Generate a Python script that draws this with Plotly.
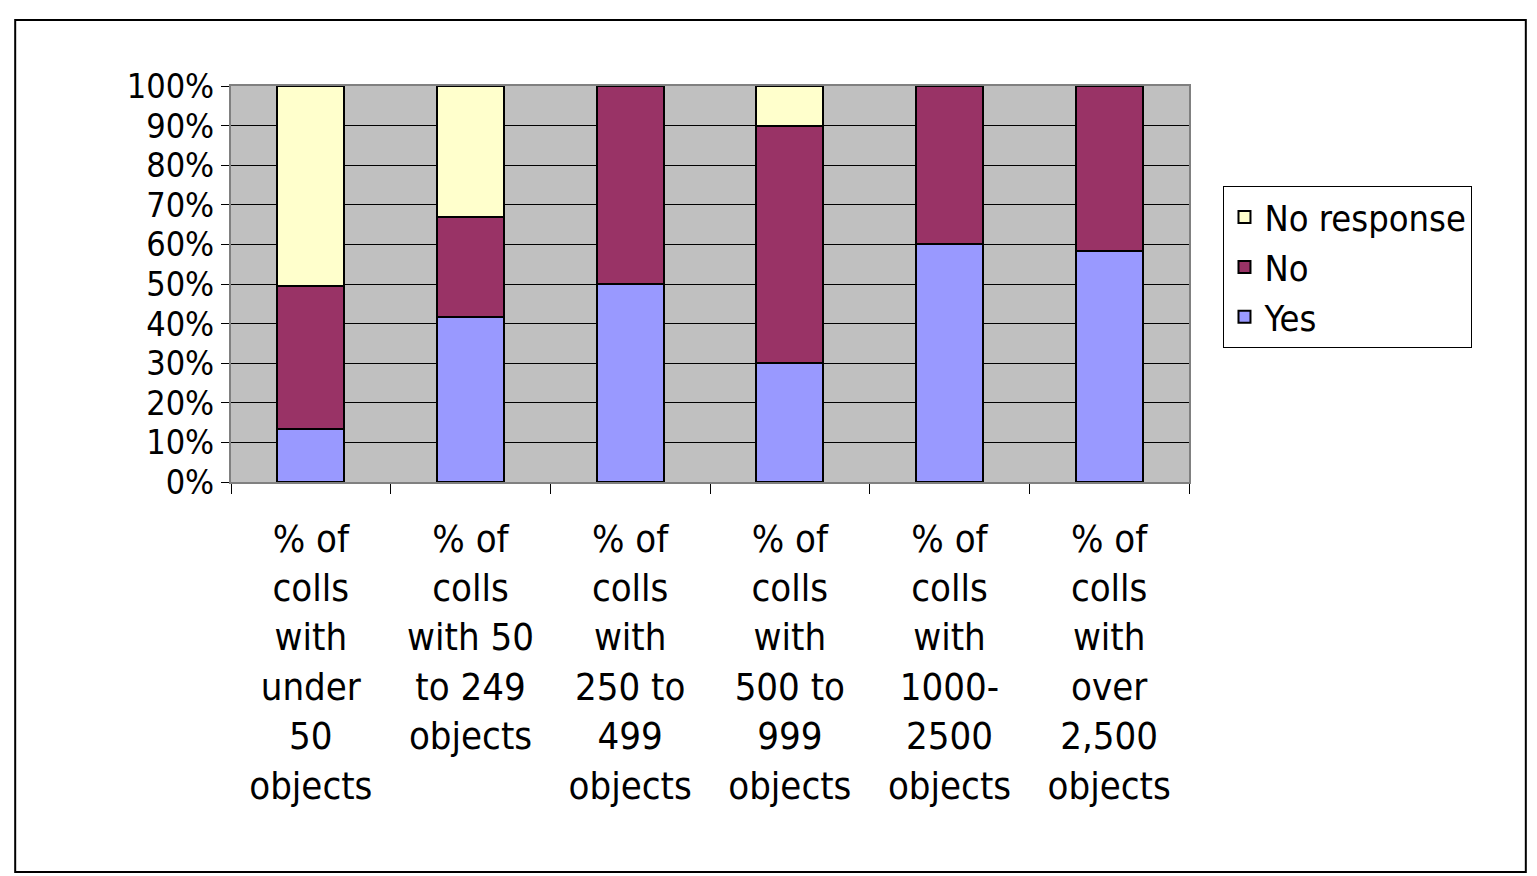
import plotly.graph_objects as go

categories = [
    "% of<br>colls<br>with<br>under<br>50<br>objects",
    "% of<br>colls<br>with 50<br>to 249<br>objects",
    "% of<br>colls<br>with<br>250 to<br>499<br>objects",
    "% of<br>colls<br>with<br>500 to<br>999<br>objects",
    "% of<br>colls<br>with<br>1000-<br>2500<br>objects",
    "% of<br>colls<br>with<br>over<br>2,500<br>objects",
]
yes = [13.5, 41.7, 50, 30, 60, 58.3]
no = [36.0, 25.2, 50, 60, 40, 41.7]
no_response = [50.5, 33.1, 0, 10, 0, 0]

fig = go.Figure()
for name, vals, color in [("Yes", yes, "#9999FF"), ("No", no, "#993366"),
                          ("No response", no_response, "#FFFFCC")]:
    fig.add_trace(go.Bar(x=categories, y=vals, name=name, marker_color=color,
                         marker_line=dict(color="black", width=2)))

font = dict(family="DejaVu Sans Condensed, DejaVu Sans", size=32, color="black")
fig.update_layout(
    barmode="stack",
    bargap=0.58,
    width=1537, height=876,
    margin=dict(l=223, r=356, t=78, b=402),
    paper_bgcolor="white",
    plot_bgcolor="#C0C0C0",
    font=font,
    showlegend=True,
    legend=dict(x=1.036, y=0.747, xanchor="left", yanchor="top",
                bordercolor="black", borderwidth=1, bgcolor="white",
                traceorder="reversed", font=dict(size=36),
                itemsizing="constant"),
    yaxis=dict(range=[0, 100], dtick=10, ticksuffix="%", showgrid=True,
               gridcolor="black", gridwidth=1, showline=True, linecolor="#808080",
               linewidth=2, ticks="outside", ticklen=8, tickcolor="black",
               zeroline=False, mirror=True, tickfont=dict(size=34)),
    xaxis=dict(tickson="boundaries", ticks="outside", ticklen=10,
               tickcolor="black", showline=True, linecolor="#808080",
               linewidth=2, mirror=True, tickangle=0,
               tickfont=dict(size=38), ticklabelstandoff=22),
)
fig.add_shape(type="rect", xref="paper", yref="paper",
              x0=(17 - 231) / 950, x1=(1515 - 231) / 950,
              y0=(482 - 872) / 396, y1=(482 - 20) / 396,
              line=dict(color="black", width=2))
fig.write_html("out.html")
